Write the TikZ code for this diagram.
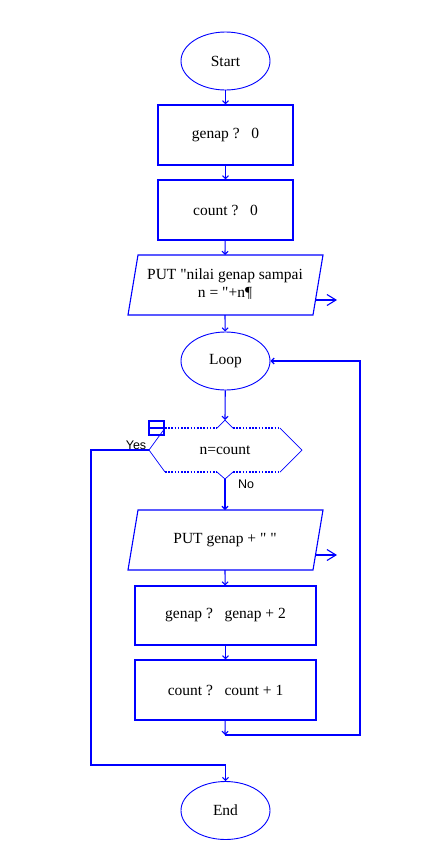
\documentclass[tikz,border=0pt]{standalone}
\usepackage{fontspec}
\setmainfont{Liberation Serif}[Ligatures=TeXOff]
\newfontfamily\labelfont{Liberation Sans}
\usetikzlibrary{shapes.geometric,arrows.meta}
\definecolor{flowblue}{RGB}{0,0,255}
\tikzset{
  flow/.style={draw=flowblue,line width=1.1pt},
  terminal/.style={draw=flowblue,line width=0.9pt,ellipse,minimum width=89pt,minimum height=58pt,inner sep=0pt},
  process/.style={flow,rectangle,inner sep=0pt},
  link/.style={draw=flowblue,line width=1.1pt,-{Straight Barb[length=3pt,width=6pt]}},
  outlink/.style={draw=flowblue,line width=1.1pt,-{Straight Barb[length=9pt,width=11pt]}},
  dotedge/.style={draw=flowblue,line width=1.6pt,dash pattern=on 1.6pt off 1.6pt},
  thinedge/.style={draw=flowblue,line width=0.7pt},
  answer/.style={font=\labelfont\fontsize{12.5}{14}\selectfont},
}
\begin{document}
\begin{tikzpicture}[x=1pt,y=-1pt,font=\fontsize{15.5}{18}\selectfont]
\useasboundingbox (0,0) rectangle (437,855);
% terminals and process boxes
\node[terminal] (start) at (225.5,61) {Start};
\node[process,minimum width=135pt,minimum height=60pt] (setgenap) at (225.5,135) {genap ?\ \ \ 0};
\node[process,minimum width=135pt,minimum height=60pt] (setcount) at (225.5,210) {count ?\ \ \ 0};
\node[align=center] (putlimit) at (225,284) {PUT "nilai genap sampai\\n = "+n¶};
\node[terminal] (loop) at (225.5,361) {Loop};
\node (cond) at (225,450) {n=count};
\node[answer] (yes) at (136,445) {Yes};
\node[answer] (no) at (246,484) {No};
\node (putgenap) at (225,540) {PUT genap + " "};
\node[process,minimum width=181pt,minimum height=59pt] (addgenap) at (225.5,615.5) {genap ?\ \ \ genap + 2};
\node[process,minimum width=181pt,minimum height=60pt] (addcount) at (225.5,690) {count ?\ \ \ count + 1};
\node[terminal] (end) at (225.5,810.5) {End};
% corner points
\coordinate (limittop) at (225,255);
\coordinate (limitbot) at (225,315);
\coordinate (limitout) at (315,300);
\coordinate (limitend) at (337,300);
\coordinate (condtop) at (225,420);
\coordinate (condbot) at (225,479);
\coordinate (condleft) at (149,450);
\coordinate (genaptop) at (225,510);
\coordinate (genapbot) at (225,570);
\coordinate (genapout) at (315,555);
\coordinate (genapend) at (337,555);
\coordinate (backjoin) at (225,735);
\coordinate (backright) at (360,735);
\coordinate (yesleft) at (91,450);
\coordinate (yesdown) at (91,765);
% parallelograms
\draw[flow] (138,255) -- (323,255) -- (313,315) -- (128,315) -- cycle;
\draw[flow] (138,510) -- (323,510) -- (313,570) -- (128,570) -- cycle;
% decision
\draw[dotedge] (165,428) -- (217,428);
\draw[dotedge] (233,428) -- (280,428);
\draw[dotedge] (165,472) -- (217,472);
\draw[dotedge] (233,472) -- (280,472);
\draw[thinedge] (217,428) -- (condtop) -- (233,428);
\draw[thinedge] (217,472) -- (condbot) -- (233,472);
\draw[thinedge] (165,428) -- (condleft) -- (165,472);
\draw[thinedge] (280,428) -- (302,450) -- (280,472);
\draw[flow] (149,421) rectangle (164,435);
\draw[flow] (149,428) -- (164,428);
% connectors
\draw[link] (start) -- (setgenap);
\draw[link] (setgenap) -- (setcount);
\draw[link] (setcount) -- (limittop);
\draw[link] (limitbot) -- (loop);
\draw[outlink] (limitout) -- (limitend);
\draw[link] (loop) -- (condtop);
\draw[link] (condbot) -- (genaptop);
\draw[outlink] (genapout) -- (genapend);
\draw[link] (genapbot) -- (addgenap);
\draw[link] (addgenap) -- (addcount);
\draw[link] (addcount) -- (backjoin);
\draw[link] (backjoin) -- (backright) |- (loop.east);
\draw[link] (condleft) -- (yesleft) -- (yesdown) -| (end.north);
\end{tikzpicture}
\end{document}
